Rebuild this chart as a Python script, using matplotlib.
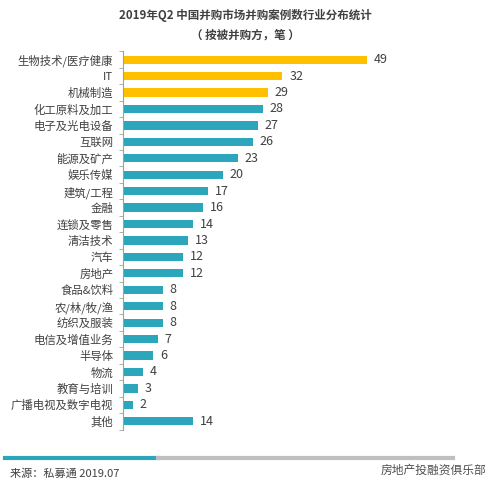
import matplotlib.pyplot as plt
import numpy as np

plt.rcParams['font.family'] = ['Noto Sans CJK SC', 'DejaVu Sans']

# 数据
industries = ['生物技术/医疗健康', 'IT', '机械制造', '化工原料及加工', '电子及光电设备',
              '互联网', '能源及矿产', '娱乐传媒', '建筑/工程', '金融', '连锁及零售',
              '清洁技术', '汽车', '房地产', '食品&饮料', '农/林/牧/渔', '纺织及服装',
              '电信及增值业务', '半导体', '物流', '教育与培训', '广播电视及数字电视', '其他']
counts = [49, 32, 29, 28, 27, 26, 23, 20, 17, 16, 14, 13, 12, 12, 8, 8, 8, 7, 6, 4, 3, 2, 14]
n_top = 3

gold = '#FFC000'
teal = '#2BA6BA'
colors = [gold if i < n_top else teal for i in range(len(counts))]

fig = plt.figure(figsize=(5.03, 4.92), dpi=100, facecolor='white')

fig.text(0.487, 0.968, '2019年Q2 中国并购市场并购案例数行业分布统计',
         ha='center', va='center', fontsize=8.3, fontweight='bold', color='#404040')
fig.text(0.487, 0.929, '（ 按被并购方，笔 ）',
         ha='center', va='center', fontsize=8.3, fontweight='bold', color='#404040')

ax = fig.add_axes([123 / 503, 0.127, 299 / 503, 0.7685])
y = np.arange(len(industries))
ax.barh(y, counts, height=0.5, color=colors)

for yi, v in zip(y, counts):
    ax.text(v + 1.4, yi, str(v), va='center', ha='left', fontsize=9, color='#404040')

ax.set_xlim(0, 60)
ax.set_ylim(len(industries) - 0.5, -0.5)
ax.set_yticks(y)
ax.set_yticklabels(industries, fontsize=8.2, color='#404040')
ax.set_yticks(np.arange(len(industries) + 1) - 0.5, minor=True)
ax.tick_params(axis='y', which='major', length=0, pad=7)
ax.tick_params(axis='y', which='minor', length=3, color='#A0A0A0', direction='out')
ax.set_xticks([])
for side in ['top', 'right', 'bottom']:
    ax.spines[side].set_visible(False)
ax.spines['left'].set_color('#A0A0A0')
ax.spines['left'].set_linewidth(0.8)

# 底部装饰线与来源
fig.add_artist(plt.Line2D([5 / 503, 158 / 503], [1 - 458 / 492] * 2,
                          color=teal, linewidth=3, transform=fig.transFigure))
fig.add_artist(plt.Line2D([158 / 503, 453 / 503], [1 - 458 / 492] * 2,
                          color='#BFBFBF', linewidth=3, transform=fig.transFigure))
fig.text(10 / 503, 1 - 474 / 492, '来源：私募通 2019.07', ha='left', va='center',
         fontsize=8, color='#404040')
fig.text(486 / 503, 1 - 470 / 492, '房地产投融资俱乐部', ha='right', va='center',
         fontsize=8.5, color='#505050')

fig.savefig('out.png', dpi=100, facecolor='white')
